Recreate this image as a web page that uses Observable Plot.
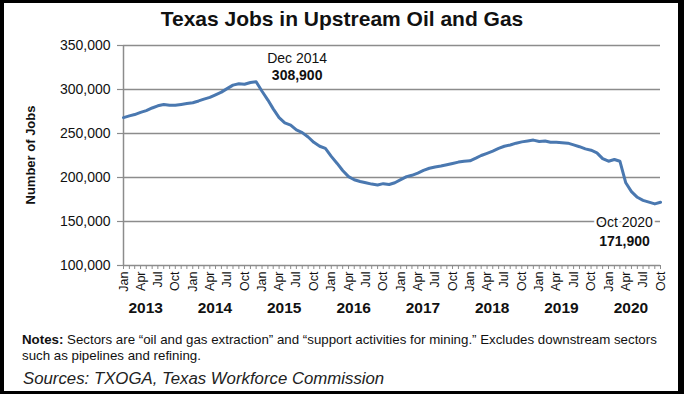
<!DOCTYPE html>
<html><head><meta charset="utf-8">
<script src="https://cdn.jsdelivr.net/npm/d3@7"></script>
<script src="https://cdn.jsdelivr.net/npm/@observablehq/plot@0.6"></script>
<style>
html,body{margin:0;padding:0;background:#000;width:684px;height:394px;overflow:hidden;font-family:"Liberation Sans",Arial,sans-serif;color:#111;}
#panel{position:absolute;left:4px;top:3px;width:674px;height:388px;background:#fff;}
#chart{position:absolute;left:0;top:0;}
#title{position:absolute;left:0;top:7px;width:684px;text-align:center;font-weight:bold;font-size:21px;line-height:24px;}
#ylab{position:absolute;left:30px;top:155px;transform:translate(-50%,-50%) rotate(-90deg);white-space:nowrap;font-weight:bold;font-size:13px;}
#notes{position:absolute;left:22px;top:332px;font-size:13.3px;line-height:16px;white-space:nowrap;}
#src{position:absolute;left:23px;top:369px;font-size:16.8px;font-style:italic;line-height:20px;color:#222;white-space:nowrap;}
</style></head>
<body>
<div id="panel"></div>
<div id="chart"></div>
<div id="title">Texas Jobs in Upstream Oil and Gas</div>
<div id="ylab">Number of Jobs</div>
<div id="notes"><b>Notes:</b> Sectors are “oil and gas extraction” and “support activities for mining.” Excludes downstream sectors<br>such as pipelines and refining.</div>
<div id="src">Sources: TXOGA, Texas Workforce Commission</div>
<script>
const startYear = 2013;
// Monthly jobs, Jan 2013 – Oct 2020
const jobs = [
  268000, 270000, 271500, 274000, 276000, 279000, 281500, 283000, 282000, 282000, 283000, 284000,
  285000, 287000, 289000, 291000, 294000, 297000, 301000, 305000, 306500, 306000, 308000, 308900,
  298000, 288000, 278000, 268000, 262000, 259500, 254000, 251000, 246000, 240000, 235500, 233000,
  224000, 216000, 208000, 201000, 197500, 195500, 194000, 192500, 191500, 193000, 192000, 194000,
  197500, 201000, 202500, 205000, 208000, 210500, 212000, 213000, 214500, 216000, 217500, 218500,
  219000, 222000, 225000, 227500, 230000, 233000, 235500, 237000, 239000, 240500, 241500, 242500,
  241000, 241500, 240000, 240000, 239500, 239000, 237000, 235000, 232500, 231000, 228000, 221500,
  218500, 220500, 218500, 194000, 184000, 177500, 174000, 172000, 170000, 171900
];
const yTicks = [100000, 150000, 200000, 250000, 300000, 350000];
const monthNames = ["Jan","Feb","Mar","Apr","May","Jun","Jul","Aug","Sep","Oct","Nov","Dec"];
const labelMonths = ["Jan","Apr","Jul","Oct"];
const years = [2013, 2014, 2015, 2016, 2017, 2018, 2019, 2020];
const annotations = [
  {month: 23, lines: ["Dec 2014", "308,900"]},
  {month: 93, lines: ["Oct 2020", "171,900"]}
];

const dates = jobs.map((_, i) => new Date(Date.UTC(startYear, i, 1)));
const data = jobs.map((v, i) => ({date: dates[i], jobs: v}));
const quarterDates = dates.filter(d => labelMonths.includes(monthNames[d.getUTCMonth()]));
const yearPos = years.map(y => ({year: String(y), date: new Date(Date.UTC(y, 3, 28))}));
const ann = annotations.map(a => ({date: dates[a.month], jobs: jobs[a.month], l1: a.lines[0], l2: a.lines[1]}));

const gray = "#8c8c8c";
const font = "Liberation Sans, Arial, sans-serif";

const chart = Plot.plot({
  width: 684,
  height: 330,
  marginTop: 45,
  marginBottom: 65,
  marginLeft: 123,
  marginRight: 24,
  style: {background: "transparent", fontFamily: font, color: "#111"},
  x: {type: "utc", domain: [dates[0], dates[dates.length - 1]]},
  y: {domain: [100000, 350000]},
  marks: [
    Plot.ruleY(yTicks, {stroke: gray, strokeWidth: 1.5, strokeOpacity: 1}),
    Plot.ruleX([dates[0]], {stroke: gray, strokeWidth: 1.5}),
    Plot.axisY({ticks: yTicks, tickFormat: d3.format(","), tickSize: 6, tickPadding: 7, fontSize: 14, stroke: gray, strokeWidth: 1.2, label: null, fill: "#111"}),
    Plot.axisX({ticks: dates, tickFormat: () => "", tickSize: 4, stroke: gray, label: null}),
    Plot.axisX({ticks: quarterDates, tickFormat: d => monthNames[d.getUTCMonth()], tickRotate: -90, tickSize: 0, tickPadding: 6, fontSize: 12.5, label: null, fill: "#111"}),
    Plot.text(yearPos, {x: "date", frameAnchor: "bottom", dy: 47, text: "year", fontSize: 15.5, fontWeight: "bold", fill: "#111"}),
    Plot.line(data, {x: "date", y: "jobs", stroke: "#4a78b0", strokeWidth: 3, strokeLinejoin: "round", strokeLinecap: "round"}),
    Plot.text(ann.slice(0,1), {x: "date", y: "jobs", text: "l1", dx: 41, dy: -23, fontSize: 14, fill: "#111"}),
    Plot.text(ann.slice(0,1), {x: "date", y: "jobs", text: "l2", dx: 41, dy: -6, fontSize: 14, fontWeight: "bold", fill: "#111"}),
    Plot.text(ann.slice(1), {x: "date", y: "jobs", text: "l1", dx: -36, dy: 20, fontSize: 14, fill: "#111", stroke: "white", strokeWidth: 5}),
    Plot.text(ann.slice(1), {x: "date", y: "jobs", text: "l2", dx: -36, dy: 39, fontSize: 14, fontWeight: "bold", fill: "#111"})
  ]
});
document.getElementById("chart").appendChild(chart);
</script>
</body></html>
